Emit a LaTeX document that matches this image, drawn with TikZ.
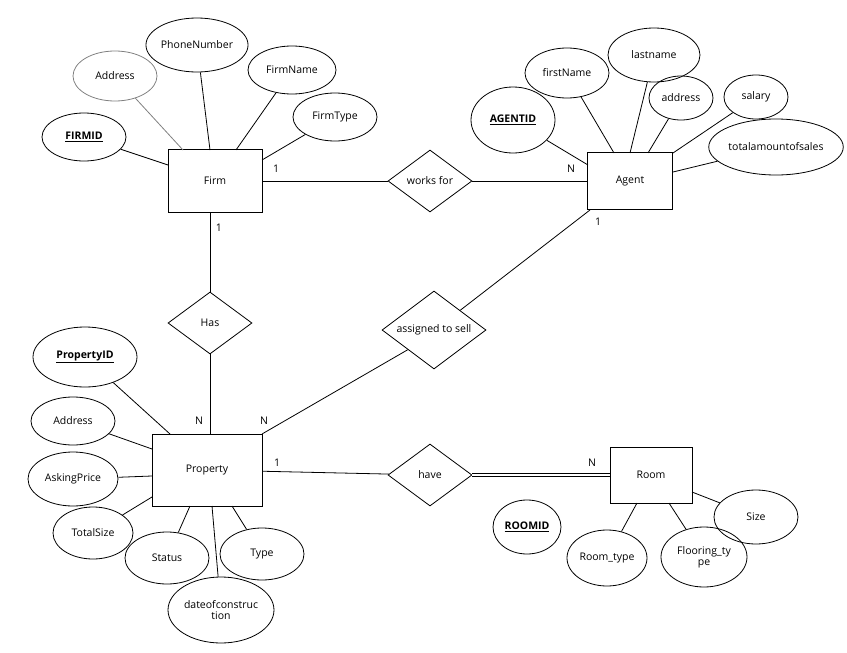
\documentclass[tikz,border=0pt]{standalone}
\usepackage{fontspec}
\setmainfont{Open Sans}
\usetikzlibrary{shapes.geometric}
\begin{document}
\begin{tikzpicture}[x=1pt,y=-1pt,font=\fontsize{10.5}{12}\selectfont,
 rel/.style={draw,diamond,inner sep=0,aspect=1.35},
 att/.style={draw,ellipse,inner sep=0},
 key/.style={att,font=\fontsize{10.5}{12}\selectfont\bfseries},
 lbl/.style={font=\fontsize{10.5}{12}\selectfont},
 every path/.style={line width=0.8pt}]
\useasboundingbox (0,0) rectangle (847,653);
\node[draw,minimum width=94,minimum height=63] (firm) at (215,181) {Firm};
\node[draw,minimum width=85,minimum height=57] (agent) at (630,181) {Agent};
\node[draw,minimum width=110,minimum height=72] (prop) at (207,470) {Property};
\node[draw,minimum width=82,minimum height=56] (room) at (651,475) {Room};
\node[rel,minimum width=84,minimum height=62] (works) at (430,181) {works for};
\node[rel,minimum width=84,minimum height=62] (has) at (210,323) {Has};
\node[rel,minimum width=104,minimum height=78] (assign) at (434,330) {assigned to sell};
\node[rel,minimum width=84,minimum height=62] (have) at (430,475) {have};
\newcommand{\att}[6][att]{\node[#1,minimum width=#5,minimum height=#6] (#2) at (#3) {#4};}
\att{phone}{197,45}{PhoneNumber}{92}{54}
\att[att,draw=gray]{faddr}{115,76}{Address}{84}{50}
\att{fname}{292,70}{FirmName}{88}{48}
\att{ftype}{335,117}{FirmType}{84}{48}
\att[key]{firmid}{84,137}{\underline{FIRMID}}{84}{48}
\att{first}{567,73}{firstName}{84}{50}
\att{last}{654,55}{lastname}{92}{54}
\att{aaddr}{681,98}{address}{64}{44}
\att{sal}{756,97}{salary}{64}{44}
\att[key]{agentid}{513,120}{\underline{AGENTID}}{84}{66}
\att{total}{776,147}{totalamountofsales}{128}{56}
\att[key]{propid}{85,357}{\underline{PropertyID}}{104}{60}
\att{paddr}{73,421}{Address}{84}{48}
\att{ask}{73,479}{AskingPrice}{90}{54}
\att{tsize}{93,533}{TotalSize}{80}{52}
\att{status}{167,558}{Status}{84}{52}
\att{type}{262,554}{Type}{84}{52}
\att{date}{221,610}{\shortstack{dateofconstruc\\tion}}{106}{66}
\att[key]{roomid}{527,527}{\underline{ROOMID}}{68}{54}
\att{rtype}{607,558}{Room\_type}{80}{56}
\att{floor}{704,557}{\shortstack{Flooring\_ty\\pe}}{86}{60}
\att{size}{756,517}{Size}{84}{54}
\coordinate (fb) at (210,213);
\coordinate (pt) at (210,434);
\draw (phone) -- (210,150);
\draw[gray] (faddr) -- (183,150);
\draw (fname) -- (236,150);
\draw (ftype) -- (262,160);
\draw (firmid) -- (168,165);
\draw (first) -- (614,153);
\draw (last) -- (630,153);
\draw (aaddr) -- (648,153);
\draw (sal) -- (673,153);
\draw (agentid) -- (588,165);
\draw (total) -- (673,172);
\draw (propid) -- (170,434);
\draw (paddr) -- (152,449);
\draw (ask) -- (152,476);
\draw (tsize) -- (152,497);
\draw (status) -- (190,506);
\draw (type) -- (232,506);
\draw (date) -- (212,506);
\draw (rtype) -- (637,503);
\draw (floor) -- (669,503);
\draw (size) -- (692,492);
\draw (firm) -- (works) -- (agent);
\draw (fb) -- (has) -- (pt);
\draw (590,210) -- (assign.north east);
\draw (262,434) -- (assign.south west);
\draw (prop) -- (have);
\draw[double,double distance=2pt] (have.east) -- (room.west);
\node[lbl] at (276,169) {1};
\node[lbl] at (571,169) {N};
\node[lbl] at (219,228) {1};
\node[lbl] at (199,421) {N};
\node[lbl] at (264,421) {N};
\node[lbl] at (598,222) {1};
\node[lbl] at (277,463) {1};
\node[lbl] at (592,463) {N};
\end{tikzpicture}
\end{document}
